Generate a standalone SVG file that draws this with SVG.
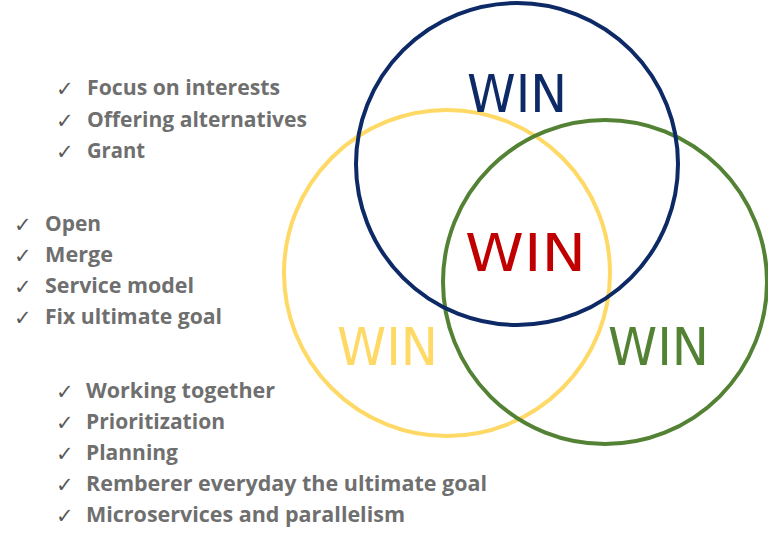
<svg xmlns="http://www.w3.org/2000/svg" width="768" height="547" viewBox="0 0 768 547">
<style>
.item{font-family:"Open Sans","Liberation Sans",sans-serif;font-weight:700;font-size:20.5px;fill:#6f6f6f}
.chk{font-family:"DejaVu Sans",sans-serif;font-size:21px;fill:#5a5a5a}
.win{font-family:"DejaVu Sans","Liberation Sans",sans-serif;font-size:52px}
.ring{fill:none;stroke-width:4}
</style>
<rect width="768" height="547" fill="#ffffff"/>
<g id="circles">
<circle id="yellow-circle" class="ring" cx="447" cy="273" r="163" stroke="#ffd966"/>
<circle id="green-circle" class="ring" cx="605" cy="282" r="162" stroke="#548235"/>
<circle id="navy-circle" class="ring" cx="517" cy="164" r="161" stroke="#0d2a66"/>
</g>
<g id="labels">
<text class="win" x="467" y="112" fill="#0d2a66" textLength="100" lengthAdjust="spacingAndGlyphs">WIN</text>
<text class="win" x="465" y="271" fill="#c00000" font-size="60" textLength="121" lengthAdjust="spacingAndGlyphs">WIN</text>
<text class="win" x="337" y="365" fill="#ffd966" textLength="101" lengthAdjust="spacingAndGlyphs">WIN</text>
<text class="win" x="608" y="365" fill="#548235" textLength="101" lengthAdjust="spacingAndGlyphs">WIN</text>
</g>
<g id="list-top">
<text class="chk" x="56" y="96">✓</text><text class="item" x="87" y="95" textLength="193" lengthAdjust="spacingAndGlyphs">Focus on interests</text>
<text class="chk" x="56" y="128">✓</text><text class="item" x="87" y="127" textLength="220" lengthAdjust="spacingAndGlyphs">Offering alternatives</text>
<text class="chk" x="56" y="159">✓</text><text class="item" x="87" y="158" textLength="58" lengthAdjust="spacingAndGlyphs">Grant</text>
</g>
<g id="list-middle">
<text class="chk" x="14" y="232">✓</text><text class="item" x="45" y="231" textLength="56" lengthAdjust="spacingAndGlyphs">Open</text>
<text class="chk" x="14" y="263">✓</text><text class="item" x="45" y="262" textLength="68" lengthAdjust="spacingAndGlyphs">Merge</text>
<text class="chk" x="14" y="294">✓</text><text class="item" x="45" y="293" textLength="149" lengthAdjust="spacingAndGlyphs">Service model</text>
<text class="chk" x="14" y="325">✓</text><text class="item" x="45" y="324" textLength="177" lengthAdjust="spacingAndGlyphs">Fix ultimate goal</text>
</g>
<g id="list-bottom">
<text class="chk" x="56" y="399">✓</text><text class="item" x="86" y="398" textLength="189" lengthAdjust="spacingAndGlyphs">Working together</text>
<text class="chk" x="56" y="430">✓</text><text class="item" x="86" y="429" textLength="139" lengthAdjust="spacingAndGlyphs">Prioritization</text>
<text class="chk" x="56" y="461">✓</text><text class="item" x="86" y="460" textLength="92" lengthAdjust="spacingAndGlyphs">Planning</text>
<text class="chk" x="56" y="492">✓</text><text class="item" x="86" y="491" textLength="401" lengthAdjust="spacingAndGlyphs">Remberer everyday the ultimate goal</text>
<text class="chk" x="56" y="523">✓</text><text class="item" x="86" y="522" textLength="319" lengthAdjust="spacingAndGlyphs">Microservices and parallelism</text>
</g>
</svg>
